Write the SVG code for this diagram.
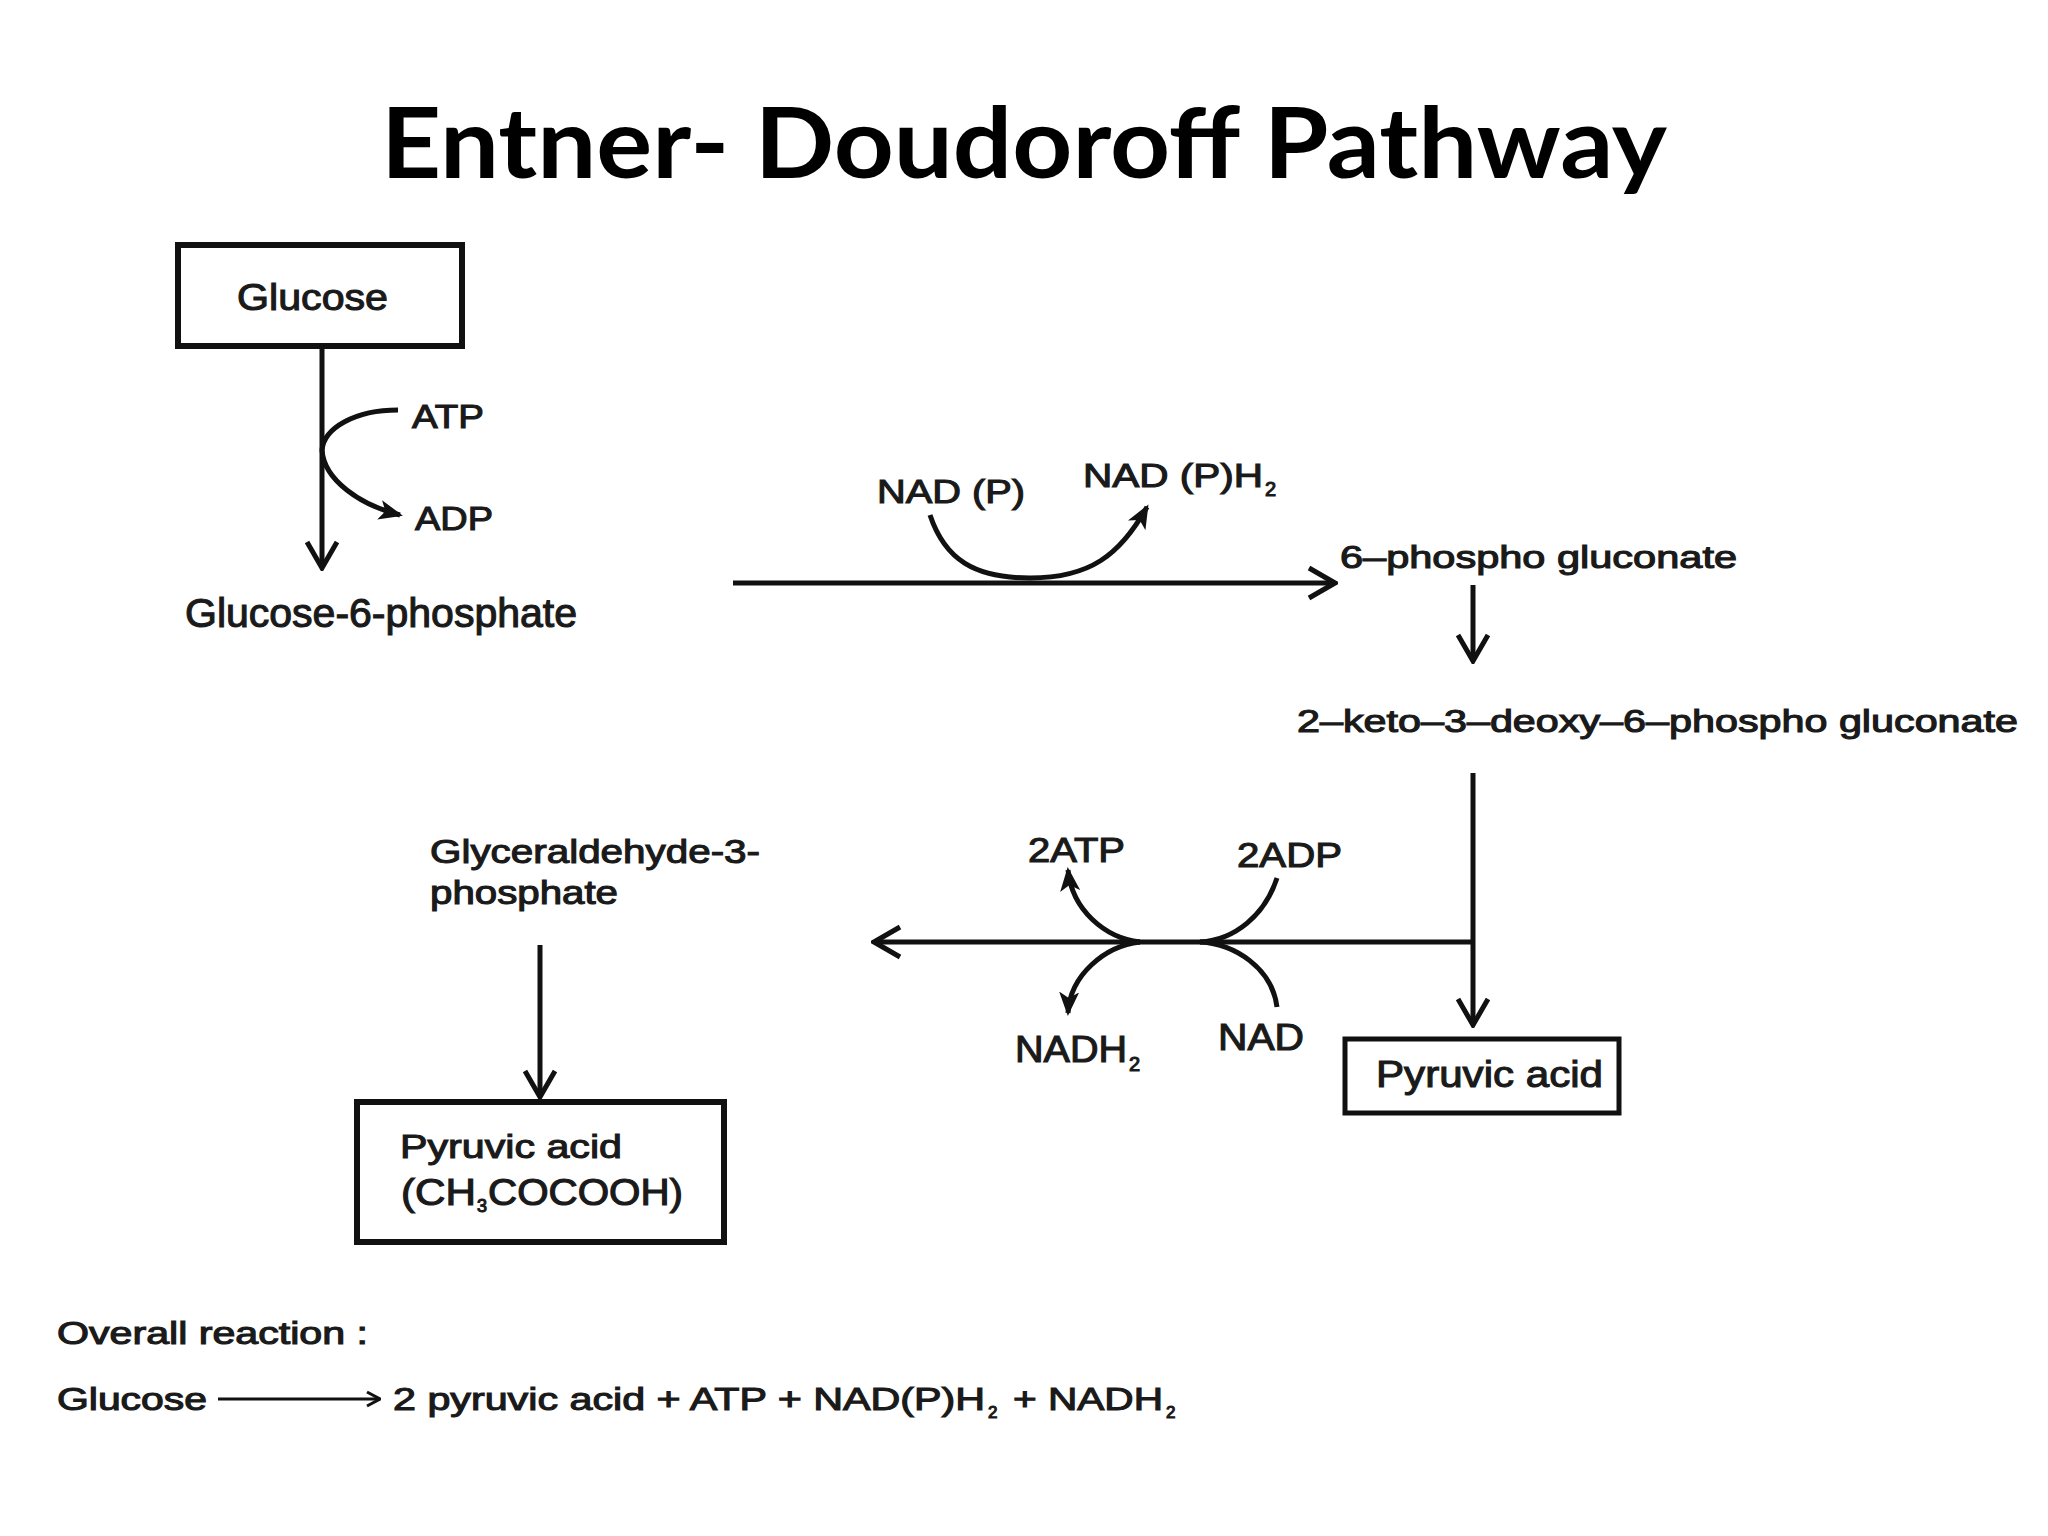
<svg xmlns="http://www.w3.org/2000/svg" width="2048" height="1536" viewBox="0 0 2048 1536">
<style>
.t{font-family:"Liberation Sans",Arial,sans-serif;fill:#1a1a1a;stroke:#1a1a1a;stroke-width:1.1}
.title{font-family:Lato,"Open Sans",sans-serif;font-weight:bold;fill:#000}
.ln{fill:none;stroke:#111;stroke-width:5}
.box{fill:none;stroke:#111;stroke-width:6}
</style>
<defs>
<marker id="chev" markerUnits="userSpaceOnUse" viewBox="0 0 32 36" refX="29" refY="18" markerWidth="32" markerHeight="36" orient="auto">
<path d="M3,3 L29,18 L3,33" fill="none" stroke="#111" stroke-width="5"/>
</marker>
<marker id="tri" markerUnits="userSpaceOnUse" viewBox="0 0 24 20" refX="21" refY="10" markerWidth="24" markerHeight="20" orient="auto">
<path d="M0,0 L24,10 L0,20 L6,10 z" fill="#111"/>
</marker>
<marker id="small" markerUnits="userSpaceOnUse" viewBox="0 0 16 18" refX="15" refY="9" markerWidth="16" markerHeight="18" orient="auto">
<path d="M2,2 L15,9 L2,16" fill="none" stroke="#111" stroke-width="3"/>
</marker>
</defs>
<rect width="2048" height="1536" fill="#fff"/>
<text class="title" x="381" y="178" font-size="98" textLength="1286" lengthAdjust="spacingAndGlyphs">Entner- Doudoroff Pathway</text>

<g id="connectors">
<path class="ln" d="M322,346 L322,568" marker-end="url(#chev)"/>
<path class="ln" d="M398,410 C355,410 324,428 322,450 C324,480 360,505 400,515" marker-end="url(#tri)"/>
<path class="ln" d="M733,583 L1335,583" marker-end="url(#chev)"/>
<path class="ln" d="M930,515 C945,560 975,578 1030,578 C1090,578 1120,555 1147,507" marker-end="url(#tri)"/>
<path class="ln" d="M1473,585 L1473,661" marker-end="url(#chev)"/>
<path class="ln" d="M1473,773 L1473,1025" marker-end="url(#chev)"/>
<path class="ln" d="M1473,942 L874,942" marker-end="url(#chev)"/>
<path class="ln" d="M1140,942 C1105,938 1072,910 1068,870" marker-end="url(#tri)"/>
<path class="ln" d="M1140,942 C1105,946 1070,975 1068,1013" marker-end="url(#tri)"/>
<path class="ln" d="M1277,878 C1265,915 1235,940 1200,942"/>
<path class="ln" d="M1200,942 C1235,944 1272,968 1277,1007"/>
<path class="ln" d="M540,945 L540,1097" marker-end="url(#chev)"/>
<path class="ln" style="stroke-width:3" d="M218,1399 L380,1399" marker-end="url(#small)"/>
</g>

<g id="glucose">
<rect class="box" x="178" y="245" width="284" height="101"/>
<text class="t" x="237" y="310" font-size="37" textLength="151" lengthAdjust="spacingAndGlyphs">Glucose</text>
</g>
<g id="atp"><text class="t" x="412" y="428" font-size="33" textLength="72" lengthAdjust="spacingAndGlyphs">ATP</text></g>
<g id="adp"><text class="t" x="415" y="530" font-size="33" textLength="78" lengthAdjust="spacingAndGlyphs">ADP</text></g>
<g id="g6p"><text class="t" x="185" y="627" font-size="40" textLength="392" lengthAdjust="spacingAndGlyphs">Glucose-6-phosphate</text></g>
<g id="nadp"><text class="t" x="877" y="503" font-size="33" textLength="148" lengthAdjust="spacingAndGlyphs">NAD (P)</text></g>
<g id="nadph2"><text class="t" x="1083" y="487" font-size="33" textLength="180" lengthAdjust="spacingAndGlyphs">NAD (P)H</text><text class="t" x="1265" y="496" font-size="20">2</text></g>
<g id="pg"><text class="t" x="1340" y="568" font-size="31" textLength="397" lengthAdjust="spacingAndGlyphs">6–phospho gluconate</text></g>
<g id="kdpg"><text class="t" x="1297" y="732" font-size="31" textLength="721" lengthAdjust="spacingAndGlyphs">2–keto–3–deoxy–6–phospho gluconate</text></g>
<g id="atp2"><text class="t" x="1028" y="862" font-size="35" textLength="97" lengthAdjust="spacingAndGlyphs">2ATP</text></g>
<g id="adp2"><text class="t" x="1237" y="867" font-size="35" textLength="105" lengthAdjust="spacingAndGlyphs">2ADP</text></g>
<g id="nadh2"><text class="t" x="1015" y="1062" font-size="36" textLength="112" lengthAdjust="spacingAndGlyphs">NADH</text><text class="t" x="1129" y="1071" font-size="20">2</text></g>
<g id="nad"><text class="t" x="1218" y="1050" font-size="36" textLength="86" lengthAdjust="spacingAndGlyphs">NAD</text></g>
<g id="pyruvic1">
<rect class="box" x="1345" y="1039" width="274" height="74" style="stroke-width:5"/>
<text class="t" x="1376" y="1087" font-size="37" textLength="227" lengthAdjust="spacingAndGlyphs">Pyruvic acid</text>
</g>
<g id="g3p">
<text class="t" x="430" y="863" font-size="33" textLength="330" lengthAdjust="spacingAndGlyphs">Glyceraldehyde-3-</text>
<text class="t" x="430" y="904" font-size="33" textLength="188" lengthAdjust="spacingAndGlyphs">phosphate</text>
</g>
<g id="pyruvic2">
<rect class="box" x="357" y="1102" width="367" height="140"/>
<text class="t" x="400" y="1158" font-size="34" textLength="222" lengthAdjust="spacingAndGlyphs">Pyruvic acid</text>
<text class="t" x="401" y="1205" font-size="36" textLength="75" lengthAdjust="spacingAndGlyphs">(CH</text>
<text class="t" x="477" y="1212" font-size="18">3</text>
<text class="t" x="488" y="1205" font-size="36" textLength="195" lengthAdjust="spacingAndGlyphs">COCOOH)</text>
</g>
<g id="overall">
<text class="t" x="57" y="1344" font-size="31" textLength="311" lengthAdjust="spacingAndGlyphs">Overall reaction :</text>
<text class="t" x="57" y="1410" font-size="31" textLength="150" lengthAdjust="spacingAndGlyphs">Glucose</text>
<text class="t" x="393" y="1410" font-size="32" textLength="592" lengthAdjust="spacingAndGlyphs">2 pyruvic acid + ATP + NAD(P)H</text>
<text class="t" x="988" y="1418" font-size="17">2</text>
<text class="t" x="1013" y="1410" font-size="32" textLength="150" lengthAdjust="spacingAndGlyphs">+ NADH</text>
<text class="t" x="1166" y="1418" font-size="17">2</text>
</g>
</svg>
